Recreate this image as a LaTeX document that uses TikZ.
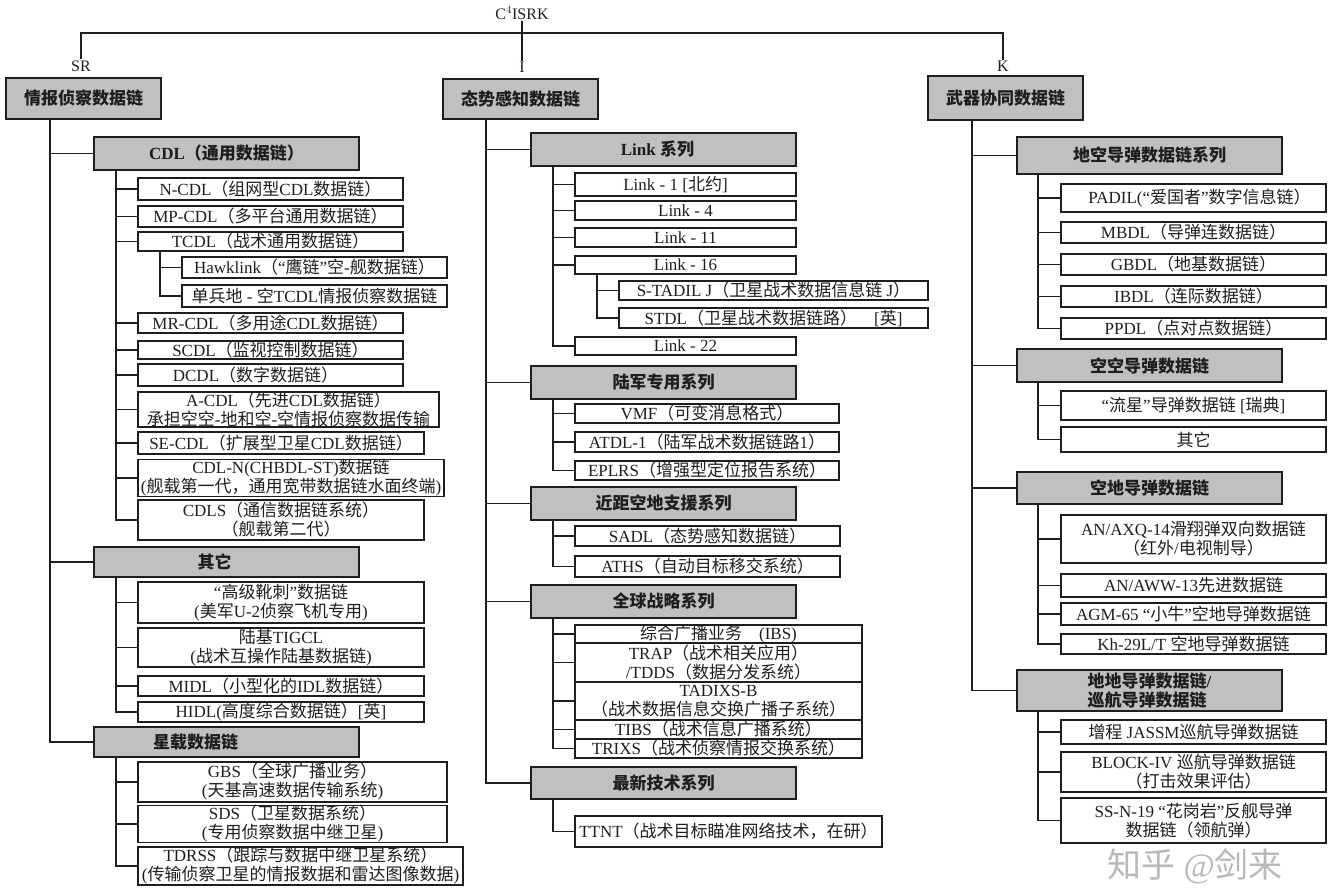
\documentclass[tikz,border=0pt]{standalone}
\usepackage{fontspec}
\setmainfont{Liberation Serif}
\newfontfamily\cjkfont{Noto Sans CJK SC}
\XeTeXinterchartokenstate=1
\newXeTeXintercharclass\cjkcls
\newcount\ccnt
\ccnt="2E80
\loop \XeTeXcharclass\ccnt=\cjkcls \advance\ccnt by 1 \ifnum\ccnt<"A000 \repeat
\ccnt="FF00
\loop \XeTeXcharclass\ccnt=\cjkcls \advance\ccnt by 1 \ifnum\ccnt<"FFF0 \repeat
\XeTeXinterchartoks 0 \cjkcls = {\begingroup\cjkfont}
\XeTeXinterchartoks 4095 \cjkcls = {\begingroup\cjkfont}
\XeTeXinterchartoks \cjkcls 0 = {\endgroup}
\XeTeXinterchartoks \cjkcls 4095 = {\endgroup}
\definecolor{hdrgray}{RGB}{192,192,192}
\definecolor{ink}{RGB}{30,30,30}
\begin{document}
\begin{tikzpicture}[x=1pt,y=-1pt,
  leaf/.style={draw=ink, line width=1.6pt, inner sep=0pt, align=center, text=ink,
    font=\fontsize{17}{19}\selectfont},
  hdr/.style={leaf, fill=hdrgray, font=\fontsize{17}{19}\selectfont\bfseries},
  conn/.style={draw=ink, line width=1.6pt},
  lab/.style={inner sep=1pt, text=ink, font=\fontsize{16}{18}\selectfont}]
\newcommand\bx[7][leaf]{%
  \pgfmathsetmacro\bw{#5-#3}\pgfmathsetmacro\bh{#6-#4}%
  \node[#1, minimum width=\bw pt, minimum height=\bh pt] (#2) at ({(#3+#5)/2},{(#4+#6)/2}) {#7};}
\newcommand\branch[3]{\foreach \c in {#3} {\draw[conn] (#1.south west) ++(#2,0) |- (\c.west);}}
\fill[white] (0,0) rectangle (1332,892);
\useasboundingbox (0,0) rectangle (1332,892);

% top
\node[lab] (root) at (522,13) {C$^4$ISRK};
\node[lab] (SRl) at (81,66) {SR};
\node[lab] (Il) at (522,67) {I};
\node[lab] (Kl) at (1003,66) {K};
\coordinate (hl) at (0,33);
\draw[conn] (SRl.north) -- (SRl.north |- hl) -- (Kl.north |- hl) -- (Kl.north);
\draw[conn] (root.south) -- (Il.north);

% left column
\bx[hdr]{sr}{6}{78}{161}{119}{情报侦察数据链}
\bx[hdr]{cdl}{94}{137}{359}{170}{CDL（通用数据链）}
\bx{ncdl}{138}{178}{403}{200}{N-CDL（组网型CDL数据链）}
\bx{mpcdl}{138}{206}{403}{227}{MP-CDL（多平台通用数据链）}
\bx{tcdl}{138}{232}{403}{251}{TCDL（战术通用数据链）}
\bx{hawk}{182}{257}{447}{278}{Hawklink（“鹰链”空-舰数据链）}
\bx{dbd}{182}{285}{447}{307}{单兵地 - 空TCDL情报侦察数据链}
\bx{mrcdl}{138}{313}{403}{333}{MR-CDL（多用途CDL数据链）}
\bx{scdl}{138}{341}{403}{359}{SCDL（监视控制数据链）}
\bx{dcdl}{138}{364}{403}{386}{DCDL（数字数据链）\hspace{30pt}}
\bx{acdl}{138}{392}{439}{427}{A-CDL（先进CDL数据链）\\承担空空-地和空-空情报侦察数据传输}
\bx{secdl}{138}{432}{424}{454}{SE-CDL（扩展型卫星CDL数据链）}
\bx{cdln}{138}{460}{444}{496}{CDL-N(CHBDL-ST)数据链\\(舰载第一代，通用宽带数据链水面终端)}
\bx{cdls}{138}{500}{424}{540}{CDLS（通信数据链系统）\\（舰载第二代）}
\bx[hdr]{qt}{94}{547}{359}{577}{其它\hspace{24pt}}
\bx{gjxc}{138}{582}{424}{623}{“高级靴刺”数据链\\(美军U-2侦察飞机专用)}
\bx{tigcl}{138}{628}{424}{667}{陆基TIGCL\\(战术互操作陆基数据链)}
\bx{midl}{138}{676}{424}{696}{MIDL（小型化的IDL数据链）}
\bx{hidl}{138}{702}{424}{722}{HIDL(高度综合数据链）[英]}
\bx[hdr]{xz}{94}{727}{359}{757}{星载数据链\hspace{62pt}}
\bx{gbs}{138}{762}{447}{802}{GBS（全球广播业务）\\(天基高速数据传输系统)\hspace{20pt}}
\bx{sds}{138}{806}{447}{842}{SDS（卫星数据系统）\\(专用侦察数据中继卫星)\hspace{24pt}}
\bx{tdrss}{138}{847}{463}{885}{TDRSS（跟踪与数据中继卫星系统）\\(传输侦察卫星的情报数据和雷达图像数据)}

\branch{sr}{45}{cdl,qt,xz}
\branch{cdl}{23}{ncdl,mpcdl,tcdl,mrcdl,scdl,dcdl,acdl,secdl,cdln,cdls}
\branch{tcdl}{23}{hawk,dbd}
\branch{qt}{23}{gjxc,tigcl,midl,hidl}
\branch{xz}{23}{gbs,sds,tdrss}

% middle column
\bx[hdr]{sa}{443}{79}{598}{119}{态势感知数据链}
\bx[hdr]{link}{531}{133}{796}{166}{Link 系列\hspace{12pt}}
\bx{la}{575}{173}{796}{196}{Link - 1 [北约]\hspace{20pt}}
\bx{lb}{575}{201}{796}{220}{Link - 4}
\bx{lc}{575}{228}{796}{247}{Link - 11}
\bx{ld}{575}{256}{796}{274}{Link - 16}
\bx{stadil}{619}{281}{928}{300}{S-TADIL J（卫星战术数据信息链 J）}
\bx{stdl}{619}{308}{928}{328}{STDL（卫星战术数据链路）　[英]}
\bx{le}{575}{337}{796}{355}{Link - 22}
\bx[hdr]{lj}{531}{366}{796}{399}{陆军专用系列}
\bx{vmf}{575}{404}{839}{423}{VMF（可变消息格式）}
\bx{atdl}{575}{432}{839}{452}{ATDL-1（陆军战术数据链路1）}
\bx{eplrs}{575}{461}{839}{480}{EPLRS（增强型定位报告系统）}
\bx[hdr]{jj}{531}{487}{796}{520}{近距空地支援系列}
\bx{sadl}{575}{526}{840}{546}{SADL（态势感知数据链）}
\bx{aths}{575}{556}{840}{577}{ATHS（自动目标移交系统）}
\bx[hdr]{qq}{531}{585}{796}{618}{全球战略系列}
\bx{ibs}{575}{625}{862}{643}{综合广播业务　(IBS)}
\bx{trap}{575}{643}{862}{682}{TRAP（战术相关应用）\\/TDDS（数据分发系统）}
\bx{tadixs}{575}{682}{862}{720}{TADIXS-B\\（战术数据信息交换广播子系统）}
\bx{tibs}{575}{720}{862}{739}{TIBS（战术信息广播系统）}
\bx{trixs}{575}{739}{862}{758}{TRIXS（战术侦察情报交换系统）}
\bx[hdr]{zx}{531}{767}{796}{799}{最新技术系列}
\bx{ttnt}{575}{816}{882}{847}{TTNT（战术目标瞄准网络技术，在研）}

\branch{sa}{44}{link,lj,jj,qq,zx}
\branch{link}{23}{la,lb,lc,ld,le}
\branch{ld}{23}{stadil,stdl}
\branch{lj}{23}{vmf,atdl,eplrs}
\branch{jj}{23}{sadl,aths}
\branch{qq}{23}{ibs,trap,tadixs,tibs,trixs}
\branch{zx}{23}{ttnt}

% right column
\bx[hdr]{wq}{928}{76}{1083}{120}{武器协同数据链}
\bx[hdr]{dk}{1017}{137}{1282}{174}{地空导弹数据链系列}
\bx{padil}{1061}{184}{1326}{212}{\hspace{12pt}PADIL(“爱国者”数字信息链）}
\bx{mbdl}{1061}{222}{1326}{243}{MBDL（导弹连数据链）}
\bx{gbdl}{1061}{254}{1326}{275}{GBDL（地基数据链）}
\bx{ibdl}{1061}{286}{1326}{307}{IBDL（连际数据链）}
\bx{ppdl}{1061}{318}{1326}{339}{PPDL（点对点数据链）}
\bx[hdr]{kk}{1017}{349}{1282}{382}{空空导弹数据链}
\bx{lx}{1061}{391}{1326}{420}{“流星”导弹数据链 [瑞典]}
\bx{qtb}{1061}{427}{1326}{452}{其它}
\bx[hdr]{kd}{1017}{472}{1282}{504}{空地导弹数据链}
\bx{axq}{1061}{515}{1326}{563}{AN/AXQ-14滑翔弹双向数据链\\（红外/电视制导）}
\bx{aww}{1061}{574}{1326}{597}{AN/AWW-13先进数据链}
\bx{agm}{1061}{603}{1326}{625}{AGM-65 “小牛”空地导弹数据链}
\bx{kh}{1061}{634}{1326}{654}{Kh-29L/T 空地导弹数据链}
\node[hdr, align=left, minimum width=265pt, minimum height=41pt] (dd) at (1149.5,690.5) {地地导弹数据链/\\巡航导弹数据链};
\bx{jassm}{1061}{720}{1326}{744}{增程 JASSM巡航导弹数据链}
\bx{block}{1061}{752}{1326}{792}{BLOCK-IV 巡航导弹数据链\\（打击效果评估）}
\bx{ssn}{1061}{798}{1326}{843}{SS-N-19 “花岗岩”反舰导弹\\数据链（领航弹）}

\branch{wq}{45}{dk,kk,kd,dd}
\branch{dk}{22}{padil,mbdl,gbdl,ibdl,ppdl}
\branch{kk}{22}{lx,qtb}
\branch{kd}{22}{axq,aww,agm,kh}
\branch{dd}{22}{jassm,block,ssn}

% watermark
\node[text=black!28, font=\fontsize{34}{38}\selectfont, inner sep=0pt] (wm) at (1195,866) {知乎 @剑来};
\end{tikzpicture}
\end{document}
